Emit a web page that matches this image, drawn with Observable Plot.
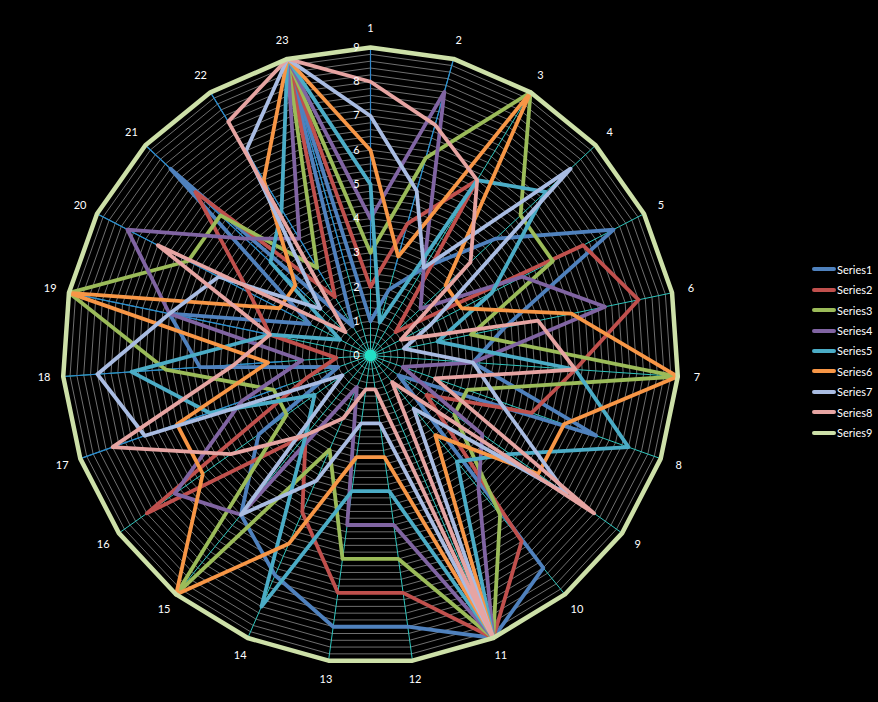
<!DOCTYPE html>
<html>
<head>
<meta charset="utf-8">
<script src="https://cdn.jsdelivr.net/npm/d3@7"></script>
<script src="https://cdn.jsdelivr.net/npm/@observablehq/plot@0.6"></script>
<style>
  html, body { margin: 0; padding: 0; background: #000; }
  #wrap { position: relative; width: 878px; height: 702px; background: #000; overflow: hidden; }
  #chart { position: absolute; left: 0; top: 0; }
  .lg { position: absolute; left: 812px; height: 14px; display: flex; align-items: center;
        font: 11px Lato, "Liberation Sans", sans-serif; color: #fff; white-space: nowrap; }
  .sw { width: 24px; height: 4px; border-radius: 2px; margin-right: 1px; }
</style>
</head>
<body>
<div id="wrap"><div id="chart"></div></div>
<script>
// ---- data ----
const categories = ["1","2","3","4","5","6","7","8","9","10","11","12","13","14","15","16","17","18","19","20","21","22","23"];
const seriesNames = ["Series1","Series2","Series3","Series4","Series5","Series6","Series7","Series8","Series9"];
const series1 = [1,2,3,5,8,4,3,7,1,8,9,8,8,7,6,4,1,5,6,2,8,1,9];
const series2 = [2,4,6,1,7,8,6,5,2,7,9,7,7,5,3,8,2,1,3,4,7,2,9];
const series3 = [3,6,9,6,6,3,9,3,3,6,9,6,6,3,9,3,3,6,9,6,6,3,9];
const series4 = [4,8,3,2,5,7,3,1,4,5,9,5,5,1,6,7,4,2,6,8,5,4,9];
const series5 = [5,1,6,7,4,2,6,8,5,4,9,4,4,8,3,2,5,7,3,1,4,5,9];
const series6 = [6,3,9,3,3,6,9,6,6,3,9,3,3,6,9,6,6,3,9,3,3,6,9];
const series7 = [7,5,3,8,2,1,3,4,7,2,9,2,2,4,6,1,7,8,6,5,2,7,9];
const series8 = [8,7,6,4,1,5,6,2,8,1,9,1,1,2,3,5,8,4,3,7,1,8,9];
const series9 = [9,9,9,9,9,9,9,9,9,9,9,9,9,9,9,9,9,9,9,9,9,9,9];
const tickLabels = [0,1,2,3,4,5,6,7,8,9];

// ---- styles ----
const colors = ["#4f81bd","#c0504d","#9bbb59","#8064a2","#4bacc6","#f79646","#a9bce2","#e6a4a2","#cde0a8"];
const blueSpokes = new Set([0,1,16,17,18,19,20,21,22]);

const allSeries = [series1,series2,series3,series4,series5,series6,series7,series8,series9];
const N = categories.length;
const maxV = 9;
const ang = i => 2 * Math.PI * i / N;
const px = (i, v) => v * Math.sin(ang(i));
const py = (i, v) => v * Math.cos(ang(i));

// rows for series polygons (closed)
const rows = [];
allSeries.forEach((vals, s) => {
  for (let k = 0; k <= N; k++) {
    const i = k % N;
    rows.push({series: seriesNames[s], x: px(i, vals[i]), y: py(i, vals[i])});
  }
});

// grid rings
const ringRows = [];
d3.range(1, 46).forEach(r => {
  const v = r * 0.2;
  for (let k = 0; k <= N; k++) {
    const i = k % N;
    ringRows.push({ring: r, x: px(i, v), y: py(i, v)});
  }
});

const idx = d3.range(N);
const unit = 308 / 9; // px per value unit
const W = 878, H = 702, cx = 370, cy = 355;

const plot = Plot.plot({
  width: W, height: H,
  margin: 0, marginTop: 0, marginRight: 0, marginBottom: 0, marginLeft: 0,
  style: {background: "#000", overflow: "visible"},
  x: {domain: [-cx / unit, (W - cx) / unit], axis: null},
  y: {domain: [-(H - cy) / unit, cy / unit], axis: null},
  color: {domain: seriesNames, range: colors},
  marks: [
    Plot.line(ringRows, {x: "x", y: "y", z: "ring", stroke: "#9a9a9a", strokeWidth: 0.8, strokeOpacity: 0.9}),
    Plot.link(idx, {x1: 0, y1: 0, x2: i => px(i, maxV), y2: i => py(i, maxV), stroke: "#2fc4bc", strokeWidth: 1}),
    Plot.link(idx.filter(i => blueSpokes.has(i)), {x1: i => px(i, 2.6), y1: i => py(i, 2.6), x2: i => px(i, maxV), y2: i => py(i, maxV), stroke: "#2f86cc", strokeWidth: 1.2}),
    Plot.dot([0], {x: 0, y: 0, r: 6, fill: "#22e0c6"}),
    Plot.line(rows, {x: "x", y: "y", z: "series", stroke: "series", strokeWidth: d => d.series === "Series9" ? 4.5 : 3.8, strokeLinejoin: "round", strokeLinecap: "round"}),
    Plot.text(tickLabels, {x: 0, y: d => d, text: d => String(d), dx: -14, fill: "#fff", fontSize: 11, fontFamily: "Lato, 'Liberation Sans', sans-serif"}),
    Plot.text(idx, {x: i => px(i, 9.56), y: i => py(i, 9.56), text: i => categories[i], fill: "#fff", fontSize: 11, fontFamily: "Lato, 'Liberation Sans', sans-serif"})
  ]
});
document.getElementById("chart").appendChild(plot);

// legend
const wrap = document.getElementById("wrap");
seriesNames.forEach((name, s) => {
  const el = document.createElement("div");
  el.className = "lg";
  el.style.top = (269.3 + s * 20.4 - 7) + "px";
  el.innerHTML = `<span class="sw" style="background:${colors[s]}"></span><span>${name}</span>`;
  wrap.appendChild(el);
});
</script>
</body>
</html>
